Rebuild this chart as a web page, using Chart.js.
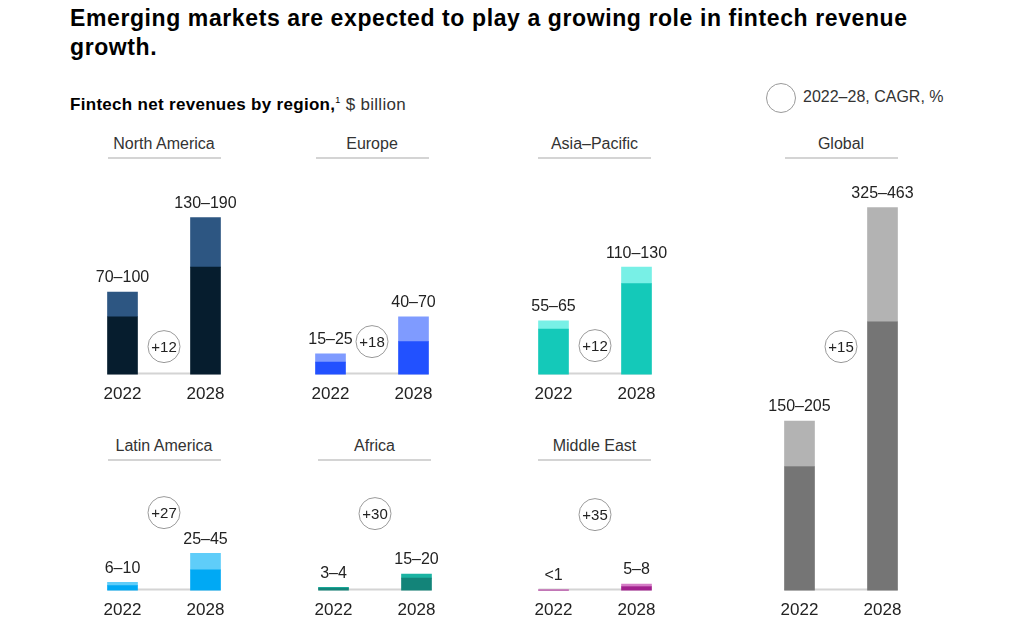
<!DOCTYPE html>
<html>
<head>
<meta charset="utf-8">
<script src="https://cdn.jsdelivr.net/npm/chart.js@4.4.1/dist/chart.umd.min.js"></script>
<style>
  body { margin: 0; background: #fff; font-family: "Liberation Sans", Arial, sans-serif; color: #1a1a1a; }
  #wrap { position: relative; width: 1024px; height: 644px; overflow: hidden; }
  .title { position: absolute; left: 70px; top: 4px; font-size: 23px; letter-spacing: 0.6px; font-weight: bold; line-height: 29px; color: #000; }
  .subtitle { position: absolute; left: 70px; top: 95px; font-size: 17px; letter-spacing: 0.3px; color: #000; }
  .subtitle b sup { font-size: 9px; font-weight: normal; }
  .subtitle span { color: #333; }
  .legend { position: absolute; left: 766px; top: 83px; font-size: 16px; color: #333; }
  .legend i { display: inline-block; width: 28px; height: 28px; border: 1px solid #9a9a9a; border-radius: 50%; vertical-align: middle; margin-right: 7px; }
  .header { position: absolute; font-size: 16px; color: #333; text-align: center; border-bottom: 2px solid #d4d4d4; padding-bottom: 4px; line-height: 18px; }
  .panel { position: absolute; }
</style>
</head>
<body>
<div id="wrap">
  <div class="title">Emerging markets are expected to play a growing role in fintech revenue<br>growth.</div>
  <div class="subtitle"><b>Fintech net revenues by region,<sup>1</sup></b> <span>$ billion</span></div>
  <div class="legend"><i></i>2022–28, CAGR, %</div>
</div>
<script>
// chart data
const regions = ['North America', 'Europe', 'Asia–Pacific', 'Latin America', 'Africa', 'Middle East', 'Global'];
const years = ['2022', '2028'];
const lowValues = [[70, 130], [15, 40], [55, 110], [6, 25], [3, 15], [0.5, 5], [150, 325]];
const highValues = [[100, 190], [25, 70], [65, 130], [10, 45], [4, 20], [1, 8], [205, 463]];
const rangeLabels = [['70–100', '130–190'], ['15–25', '40–70'], ['55–65', '110–130'], ['6–10', '25–45'], ['3–4', '15–20'], ['<1', '5–8'], ['150–205', '325–463']];
const cagr = ['+12', '+18', '+12', '+27', '+30', '+35', '+15'];

// colours, per region
const darkColors = ['#061d2e', '#2251ff', '#14c9b9', '#00a9f4', '#138479', '#a2208e', '#757575'];
const lightColors = ['#2d5682', '#7f9bff', '#78f0e6', '#5fcdf9', '#1bb3a2', '#d57cc6', '#b3b3b3'];

// layout: left edge of plot, top of plot, baseline, circle height above baseline
const PX_PER_UNIT = 0.828;
const layout = [
    { left: 81, top: 175, base: 375, circle: 28 },
    { left: 289, top: 175, base: 375, circle: 33 },
    { left: 511.5, top: 175, base: 375, circle: 29 },
    { left: 81, top: 391, base: 591, circle: 78 },
    { left: 291.5, top: 391, base: 591, circle: 77 },
    { left: 511.5, top: 391, base: 591, circle: 76 },
    { left: 758, top: 170, base: 591, circle: 244 }
];
const headerTops = [135, 135, 135, 437, 437, 437, 135];

const FONT = '"Liberation Sans", Arial, sans-serif';
const PLOT_W = 166;
const AXIS_H = 40;

var panelPlugin = {
    id: 'panelPlugin',
    beforeDatasetsDraw: function(chart) {
        var ctx = chart.ctx;
        var bars = chart.getDatasetMeta(0).data;
        var a = chart.chartArea;
        ctx.save();
        ctx.strokeStyle = '#d4d4d4';
        ctx.lineWidth = 2;
        ctx.beginPath();
        ctx.moveTo(bars[0].x - bars[0].width / 2, a.bottom - 1);
        ctx.lineTo(bars[1].x + bars[1].width / 2, a.bottom - 1);
        ctx.stroke();
        ctx.restore();
    },
    afterDatasetsDraw: function(chart) {
        var ctx = chart.ctx;
        var i = chart.options.plugins.panelPlugin.index;
        var tops = chart.getDatasetMeta(1).data;
        var a = chart.chartArea;
        ctx.save();
        ctx.font = '16px ' + FONT;
        ctx.fillStyle = '#222';
        ctx.textAlign = 'center';
        ctx.textBaseline = 'bottom';
        tops.forEach(function(bar, j) {
            ctx.fillText(rangeLabels[i][j], bar.x, bar.y - 6);
        });
        // CAGR circle between the bars
        var cx = (tops[0].x + tops[1].x) / 2;
        var cy = a.bottom - layout[i].circle;
        ctx.beginPath();
        ctx.arc(cx, cy, 16, 0, Math.PI * 2);
        ctx.fillStyle = '#fff';
        ctx.fill();
        ctx.strokeStyle = '#9a9a9a';
        ctx.lineWidth = 1;
        ctx.stroke();
        ctx.fillStyle = '#222';
        ctx.font = '15px ' + FONT;
        ctx.textBaseline = 'middle';
        ctx.fillText(cagr[i], cx, cy + 1);
        ctx.restore();
    }
};

var wrap = document.getElementById('wrap');

regions.forEach(function(name, i) {
    var L = layout[i];
    var plotH = L.base - L.top;

    var header = document.createElement('div');
    header.className = 'header';
    header.style.left = (L.left + PLOT_W / 4 - 15) + 'px';
    header.style.width = (PLOT_W / 2 + 30) + 'px';
    header.style.top = headerTops[i] + 'px';
    header.textContent = name;
    wrap.appendChild(header);

    var div = document.createElement('div');
    div.className = 'panel';
    div.style.left = L.left + 'px';
    div.style.top = L.top + 'px';
    div.style.width = PLOT_W + 'px';
    div.style.height = (plotH + AXIS_H) + 'px';
    var canvas = document.createElement('canvas');
    div.appendChild(canvas);
    wrap.appendChild(div);

    new Chart(canvas, {
        type: 'bar',
        data: {
            labels: years,
            datasets: [{
                data: lowValues[i],
                backgroundColor: darkColors[i]
            }, {
                data: highValues[i].map(function(v, j) { return v - lowValues[i][j]; }),
                backgroundColor: lightColors[i]
            }]
        },
        options: {
            responsive: true,
            maintainAspectRatio: false,
            animation: false,
            layout: { padding: 0 },
            barThickness: 30,
            scales: {
                x: {
                    stacked: true,
                    grid: { display: false, drawTicks: false },
                    border: { display: false },
                    ticks: { padding: 10, color: '#222', font: { family: FONT, size: 17 } }
                },
                y: {
                    stacked: true,
                    display: false,
                    min: 0,
                    max: plotH / PX_PER_UNIT
                }
            },
            plugins: {
                legend: { display: false },
                tooltip: { enabled: false },
                panelPlugin: { index: i }
            }
        },
        plugins: [panelPlugin]
    });
});
</script>
</body>
</html>
